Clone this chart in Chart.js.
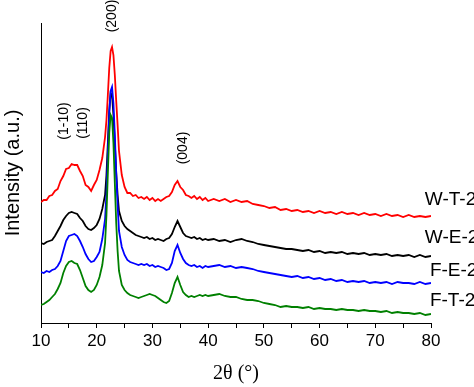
<!DOCTYPE html>
<html>
<head>
<meta charset="utf-8">
<script src="https://cdn.jsdelivr.net/npm/chart.js@4.4.1/dist/chart.umd.min.js"></script>
<style>
  body { margin: 0; background: #fff; }
  canvas { display: block; }
</style>
</head>
<body>
<canvas id="xrd" width="474" height="387"></canvas>
<script>
// 2-theta positions (degrees)
var twoTheta = [10,10.5,11,11.5,12,12.5,13,13.5,14,14.5,15,15.5,16,16.5,17,17.5,18,18.5,19,19.5,20,20.5,21,21.5,
	21.75,22,22.25,22.5,22.75,23,23.25,23.5,23.75,24,
	24.5,25,25.5,26,26.5,27,27.5,28,28.5,29,29.5,30,30.5,31,31.5,32,32.5,33,33.5,34,34.5,35,35.5,36,36.5,37,37.5,38,38.5,39,39.5,40,
	41,42,43,44,45,46,47,48,49,50,51,52,53,54,55,56,57,58,59,60,61,62,63,64,65,66,67,68,69,70,71,72,73,74,75,76,77,78,79,80];

// intensities (a.u., already offset per sample)
var wT2 = [121,123,123,127,128,132,134,142,147,154,155,159,158,158,152,147,138,136,132,138,143,153,165,186,
	203,228,255,272,276,268,248,222,198,172,
	148,136,130,130,127,128,125,126,124,126,123,125,122,124,122,124,126,127,131,138,142,136,133,128,127,125,127,124,126,123,125,122,
	124,122,124,121,123,121,122,119,118,117,115,116,113,114,112,113,111,112,110,112,110,111,109,111,109,110,108,110,108,109,107,109,107,108,106,108,106,107,106,107];

var wE2 = [80,79,81,82,83,87,92,97,103,107,110,111,110,109,105,102,97,94,93,95,98,104,114,128,
	148,180,212,230,228,208,180,150,128,112,
	102,97,94,92,90,88,87,86,85,86,84,85,83,84,83,82,84,85,89,96,102,96,90,87,86,85,86,84,85,83,84,83,
	84,82,83,81,83,84,82,81,79,78,77,76,75,74,74,73,72,73,71,72,70,71,70,71,69,70,69,70,68,69,68,69,67,68,67,68,66,68,66,67];

var fE2 = [51,50,52,51,53,54,57,62,72,82,87,88,89,87,82,76,69,64,61,62,66,71,84,104,
	130,170,210,232,236,220,188,150,118,92,
	76,68,63,61,60,59,58,59,58,59,57,58,56,57,56,55,53,54,60,72,78,70,64,60,58,57,58,56,57,55,57,56,
	57,58,56,57,55,56,55,54,52,51,50,49,48,47,46,47,45,46,44,45,43,44,42,43,41,42,41,42,40,41,40,41,39,41,40,40,39,41,39,40];

var fT2 = [18,19,21,23,26,29,34,40,50,57,61,62,60,59,53,45,37,33,31,33,38,46,58,80,
	108,150,190,208,205,180,140,100,72,52,
	38,33,30,28,27,26,25,26,27,28,29,28,27,25,23,21,20,22,30,40,46,38,31,28,26,27,26,27,28,27,28,27,
	28,29,27,26,26,24,23,23,22,20,19,18,16,17,16,16,15,16,14,15,14,14,13,14,13,13,12,13,12,12,11,12,10,11,10,10,9,10,8,9];

var sampleNames = ['W-T-2', 'W-E-2', 'F-E-2', 'F-T-2'];
var sampleColors = ['#ff0000', '#000000', '#0000ff', '#008000'];

// label anchors: [2theta, intensity]
var sampleLabelPos = [[78.9, 123], [78.9, 85], [79.8, 52], [79.8, 22]];
var peakNames = ['(200)', '(1-10)', '(110)', '(004)'];
var peakLabelPos = [[22.7, 307], [14.1, 202], [17.5, 200], [35.5, 175]];

var tickValues = [10, 20, 30, 40, 50, 60, 70, 80];

function toPoints(ys){
	var pts = [];
	for (var i = 0; i < twoTheta.length; i++) {
		pts.push({x: twoTheta[i], y: ys[i]});
	}
	return pts;
}

var allSeries = [wT2, wE2, fE2, fT2];
var sets = [];
for (var k = 0; k < allSeries.length; k++) {
	sets.push({
		label: sampleNames[k],
		data: toPoints(allSeries[k]),
		borderColor: sampleColors[k],
		borderWidth: 1.8,
		pointRadius: 0,
		tension: 0,
		fill: false,
		order: 4 - k
	});
}

// draws the sample names and the peak indices
var labelPlugin = {
	id: 'xrdLabels',
	afterDraw: function(chart){
		var ctx = chart.ctx;
		var xs = chart.scales.x, ys = chart.scales.y;
		ctx.save();
		ctx.fillStyle = '#000';
		ctx.font = '19px "Liberation Sans", Arial, sans-serif';
		ctx.textAlign = 'left';
		ctx.textBaseline = 'middle';
		for (var i = 0; i < sampleNames.length; i++) {
			ctx.fillText(sampleNames[i], xs.getPixelForValue(sampleLabelPos[i][0]), ys.getPixelForValue(sampleLabelPos[i][1]));
		}
		ctx.font = '14px "Liberation Sans", Arial, sans-serif';
		ctx.textAlign = 'center';
		for (var j = 0; j < peakNames.length; j++) {
			ctx.save();
			ctx.translate(xs.getPixelForValue(peakLabelPos[j][0]), ys.getPixelForValue(peakLabelPos[j][1]));
			ctx.rotate(-Math.PI / 2);
			ctx.fillText(peakNames[j], 0, 0);
			ctx.restore();
		}
		ctx.restore();
	}
};

var ctx = document.getElementById('xrd').getContext('2d');
var myChart = new Chart(ctx, {
	type: 'line',
	data: { datasets: sets },
	plugins: [labelPlugin],
	options: {
		responsive: false,
		animation: false,
		layout: { padding: { top: 23, right: 43, left: 0, bottom: 0 } },
		plugins: {
			legend: { display: false },
			tooltip: { enabled: false }
		},
		scales: {
			x: {
				type: 'linear',
				min: 10,
				max: 80,
				afterFit: function(s){ s.height = 64; },
				border: { display: true, color: '#000', width: 1 },
				grid: { display: true, drawOnChartArea: false, drawTicks: true, tickLength: 5, tickColor: '#000' },
				ticks: {
					stepSize: 5,
					autoSkip: false,
					maxRotation: 0,
					padding: 3,
					color: '#000',
					font: { family: '"Liberation Sans", Arial, sans-serif', size: 17 },
					callback: function(v){ return tickValues.indexOf(v) >= 0 ? v : ''; }
				},
				title: {
					display: true,
					text: '2θ (°)',
					color: '#000',
					font: { family: '"Liberation Serif", "Times New Roman", serif', size: 20, lineHeight: 1 },
					padding: { top: 0, bottom: 3 }
				}
			},
			y: {
				type: 'linear',
				min: 0,
				max: 300,
				afterFit: function(s){ s.width = 41; },
				border: { display: true, color: '#000', width: 1 },
				grid: { display: false },
				ticks: { display: false },
				title: {
					display: true,
					text: 'Intensity (a.u.)',
					color: '#000',
					font: { family: '"Liberation Sans", Arial, sans-serif', size: 20, lineHeight: 1.2 },
					padding: { top: 1, bottom: 0 }
				}
			}
		}
	}
});
</script>
</body>
</html>
